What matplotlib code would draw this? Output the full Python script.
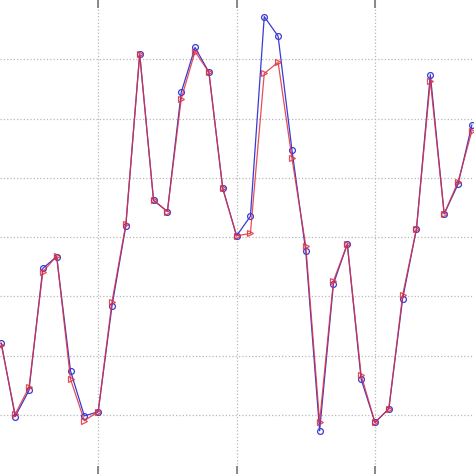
import matplotlib
matplotlib.use("Agg")
import matplotlib.pyplot as plt
import numpy as np

# sample index (only part of the run is in view)
x = np.arange(3, 38)

blue = [2.21, 0.97, 1.41, 3.47, 3.67, 1.74, 0.98, 1.05, 2.84, 4.19,
        7.09, 4.62, 4.43, 6.44, 7.20, 6.78, 4.82, 4.02, 4.35, 7.72,
        7.39, 5.47, 3.76, 0.73, 3.21, 3.88, 1.60, 0.87, 1.10, 2.96,
        4.14, 6.74, 4.39, 4.89, 5.89]

red = [2.18, 1.01, 1.46, 3.41, 3.68, 1.60, 0.90, 1.05, 2.91, 4.22,
       7.09, 4.62, 4.43, 6.33, 7.13, 6.78, 4.82, 4.02, 4.06, 6.76,
       6.95, 5.33, 3.85, 0.88, 3.26, 3.88, 1.67, 0.87, 1.10, 3.02,
       4.14, 6.64, 4.39, 4.93, 5.79]

fig = plt.figure(figsize=(4.74, 4.74), dpi=100)
ax = fig.add_axes([0, 0, 1, 1])

ax.plot(x, blue, "-o", color="#3a3ad6", lw=0.9, ms=4.2,
        mfc="none", mew=0.9)
ax.plot(x, red, "->", color="#e0303a", lw=0.9, ms=4.2,
        mfc="none", mew=0.9, alpha=0.85)

ax.set_xlim(2.906, 37.155)
ax.set_ylim(0, 8)
ax.set_xticks([10, 20, 30])
ax.set_yticks(range(1, 8))
ax.grid(True, ls=":", color="#b8b8b8", lw=0.9)
for s in ax.spines.values():
    s.set_visible(False)
ax.tick_params(axis="x", direction="in", top=True, bottom=True,
               length=6, width=1.2, color="#777777",
               labelbottom=False, labeltop=False)
ax.tick_params(axis="y", length=0, labelleft=False)

fig.savefig("out.png", dpi=100)
